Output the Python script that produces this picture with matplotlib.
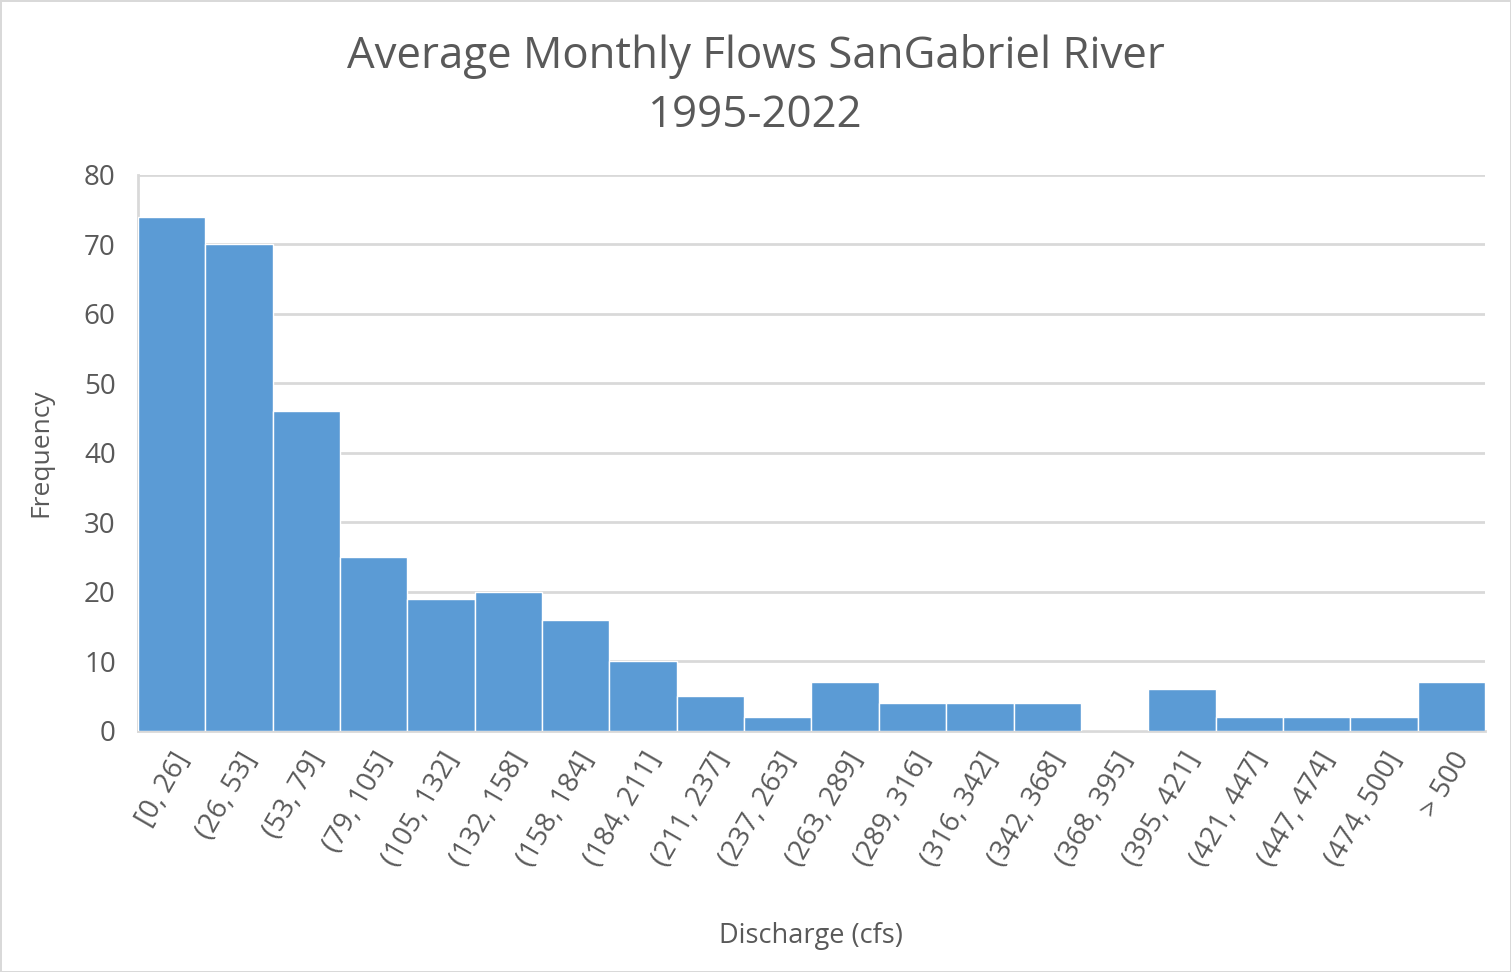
import matplotlib
matplotlib.use("Agg")
import matplotlib.pyplot as plt
import numpy as np

# histogram bins and counts
bins = ["[0, 26]", "(26, 53]", "(53, 79]", "(79, 105]", "(105, 132]", "(132, 158]",
        "(158, 184]", "(184, 211]", "(211, 237]", "(237, 263]", "(263, 289]",
        "(289, 316]", "(316, 342]", "(342, 368]", "(368, 395]", "(395, 421]",
        "(421, 447]", "(447, 474]", "(474, 500]", "> 500"]
counts = [74, 70, 46, 25, 19, 20, 16, 10, 5, 2, 7, 4, 4, 4, 0, 6, 2, 2, 2, 7]
yticks = [0, 10, 20, 30, 40, 50, 60, 70, 80]

text_color = "#595959"
grid_color = "#D9D9D9"
bar_color = "#5B9BD5"

plt.rcParams['font.family'] = ['Open Sans', 'DejaVu Sans']

fig = plt.figure(figsize=(15.11, 9.72), dpi=100)
fig.patch.set_edgecolor("#D9D9D9")
fig.patch.set_linewidth(2)
ax = fig.add_axes([0.0913, 0.248, 0.8915, 0.572])

x = np.arange(len(bins))
ax.bar(x, counts, width=1.0, color=bar_color, edgecolor="white", linewidth=1, zorder=3)

ax.set_xlim(-0.5, len(bins) - 0.5)
ax.set_ylim(0, 80)
ax.set_yticks(yticks)
ax.yaxis.grid(True, color=grid_color, linewidth=2, zorder=0)
ax.set_axisbelow(True)

for s in ["top", "right"]:
    ax.spines[s].set_visible(False)
ax.spines["left"].set_color(grid_color)
ax.spines["left"].set_linewidth(2)
ax.spines["bottom"].set_color(grid_color)
ax.spines["bottom"].set_linewidth(2)

ax.set_xticks(x)
ax.set_xticklabels(bins, rotation=60, ha="right", rotation_mode="anchor")
ax.tick_params(axis="both", length=0, colors=text_color, labelsize=20)
ax.tick_params(axis="x", pad=12)
ax.tick_params(axis="y", pad=16)

ax.set_ylabel("Frequency", fontsize=19, color=text_color, labelpad=22)
fig.text(0.537, 0.03, "Discharge (cfs)", fontsize=19.5, color=text_color, ha="center")
fig.text(0.5, 0.965, "Average Monthly Flows SanGabriel River\n1995-2022", fontsize=31.5,
         color=text_color, ha="center", va="top", linespacing=1.42)

fig.savefig("out.png", dpi=100, edgecolor=fig.get_edgecolor())
